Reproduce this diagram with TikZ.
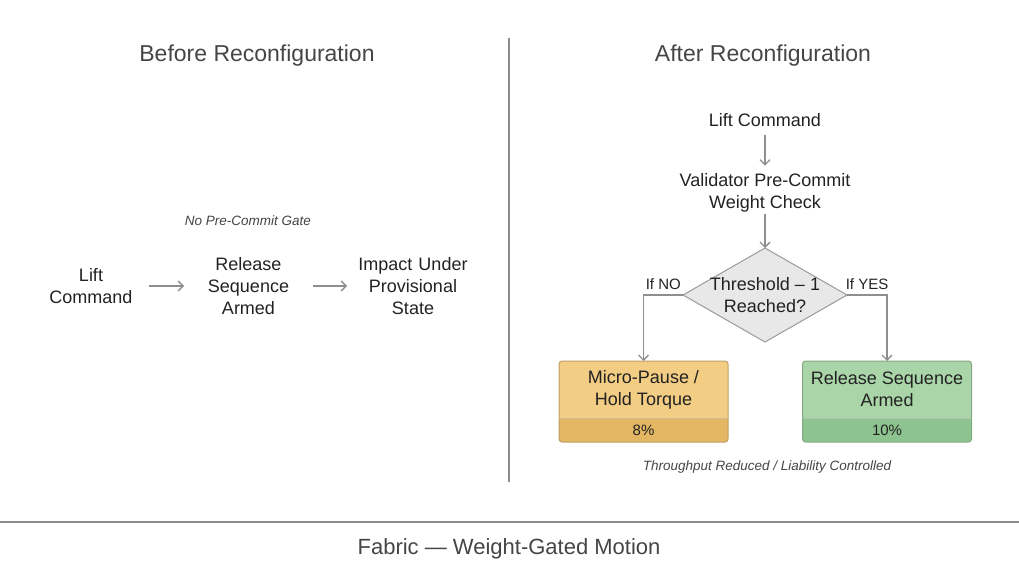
\documentclass[tikz,border=0pt]{standalone}
\usepackage{fontspec}
\setmainfont{Liberation Sans}
\usetikzlibrary{shapes.geometric,arrows.meta,positioning,backgrounds}

\definecolor{inkdark}{HTML}{222222}
\definecolor{inkhead}{HTML}{454545}
\definecolor{rulegray}{HTML}{8C8C8C}
\definecolor{arrowgray}{HTML}{8E8E8E}
\definecolor{gatefill}{HTML}{E8E8E8}
\definecolor{gateline}{HTML}{9A9A9A}
\definecolor{pauseTop}{HTML}{F3CD84}
\definecolor{pauseBot}{HTML}{E2B662}
\definecolor{pauseLine}{HTML}{BC9E66}
\definecolor{armedTop}{HTML}{A9D5A8}
\definecolor{armedBot}{HTML}{8DC38E}
\definecolor{armedLine}{HTML}{84A884}

\begin{document}
\begin{tikzpicture}[x=1pt, y=-1pt]
    \tikzstyle{every node}=[inner sep=0pt, outer sep=0pt,
				% text:
				text=inkdark, align=center,
				font=\fontsize{18}{22}\selectfont
					]
    \tikzstyle{heading}=[text=inkhead, font=\fontsize{23}{27}\selectfont]
    \tikzstyle{note}=[text=inkhead, font=\fontsize{13.5}{16}\selectfont\itshape]
    \tikzstyle{branch}=[font=\fontsize{15}{18}\selectfont]
    \tikzstyle{arr}=[draw=arrowgray, line width=1.3pt, -{Straight Barb[length=5pt,width=10pt]}]
    \tikzstyle{gate}=[diamond, draw=gateline, line width=1pt, fill=gatefill,
				minimum width=164pt, minimum height=94pt]
    \tikzstyle{outcome}=[minimum width=169pt, minimum height=57pt]
    \tikzstyle{share}=[minimum width=169pt, minimum height=24pt,
				font=\fontsize{15}{18}\selectfont]

    \useasboundingbox (0,0) rectangle (1019,572);

    % frame
    \draw[rulegray, line width=1.2pt] (509,38) -- (509,482);
    \draw[rulegray, line width=1.5pt] (0,522) -- (1019,522);
    \node[heading] (before) at (257,56) {Before Reconfiguration};
    \node[heading] (after) at (763,56) {After Reconfiguration};
    \node[heading, font=\fontsize{22}{26}\selectfont] (caption) at (509,549) {Fabric — Weight-Gated Motion};

    % before
    \node[note] (nogate) at (248,221) {No Pre-Commit Gate};
    \node[text width=116pt] (lift) at (91,286) {Lift\\Command};
    \node[text width=129pt] (armedold) at (248.5,286) {Release\\Sequence\\Armed};
    \node[text width=132pt] (impact) at (413,286) {Impact Under\\Provisional\\State};
    \draw[arr] (lift) -- (armedold);
    \draw[arr] (armedold) -- (impact);

    % after
    \node (cmd) at (765,120) {Lift Command};
    \node (check) at (765,193) {Validator Pre-Commit\\Weight Check};
    \node[gate] (gate) at (765,295) {};
    \node (gatetext) at (gate) {Threshold – 1\\Reached?};
    \node[outcome] (pause) at (643.5,389.5) {Micro-Pause /\\Hold Torque};
    \node[share, below=0pt of pause] (pausepct) {8\%};
    \node[outcome] (armed) at (887,389.5) {Release Sequence\\Armed};
    \node[share, below=0pt of armed] (armedpct) {10\%};
    \node[note] (result) at (767,467) {Throughput Reduced / Liability Controlled};

    \begin{scope}[on background layer]
        \begin{scope}
            \clip[rounded corners=3pt] (pause.north west) rectangle (pausepct.south east);
            \fill[pauseTop] (pause.north west) rectangle (pause.south east);
            \fill[pauseBot] (pausepct.north west) rectangle (pausepct.south east);
        \end{scope}
        \begin{scope}
            \clip[rounded corners=3pt] (armed.north west) rectangle (armedpct.south east);
            \fill[armedTop] (armed.north west) rectangle (armed.south east);
            \fill[armedBot] (armedpct.north west) rectangle (armedpct.south east);
        \end{scope}
    \end{scope}
    \draw[pauseLine, line width=1pt, rounded corners=3pt] (pause.north west) rectangle (pausepct.south east);
    \draw[pauseLine!70, line width=0.8pt] (pause.south west) -- (pause.south east);
    \draw[armedLine, line width=1pt, rounded corners=3pt] (armed.north west) rectangle (armedpct.south east);
    \draw[armedLine!70, line width=0.8pt] (armed.south west) -- (armed.south east);

    \draw[arr, shorten <=8pt, shorten >=8pt] (cmd) -- (check);
    \draw[arr, shorten <=2pt] (check) -- (gate);
    \draw[arr] (gate.west) -| node[branch, pos=0.25, above=5pt] (no) {If NO} (pause.north);
    \draw[arr] (gate.east) -| node[branch, pos=0.25, above=5pt] (yes) {If YES} (armed.north);
\end{tikzpicture}
\end{document}
